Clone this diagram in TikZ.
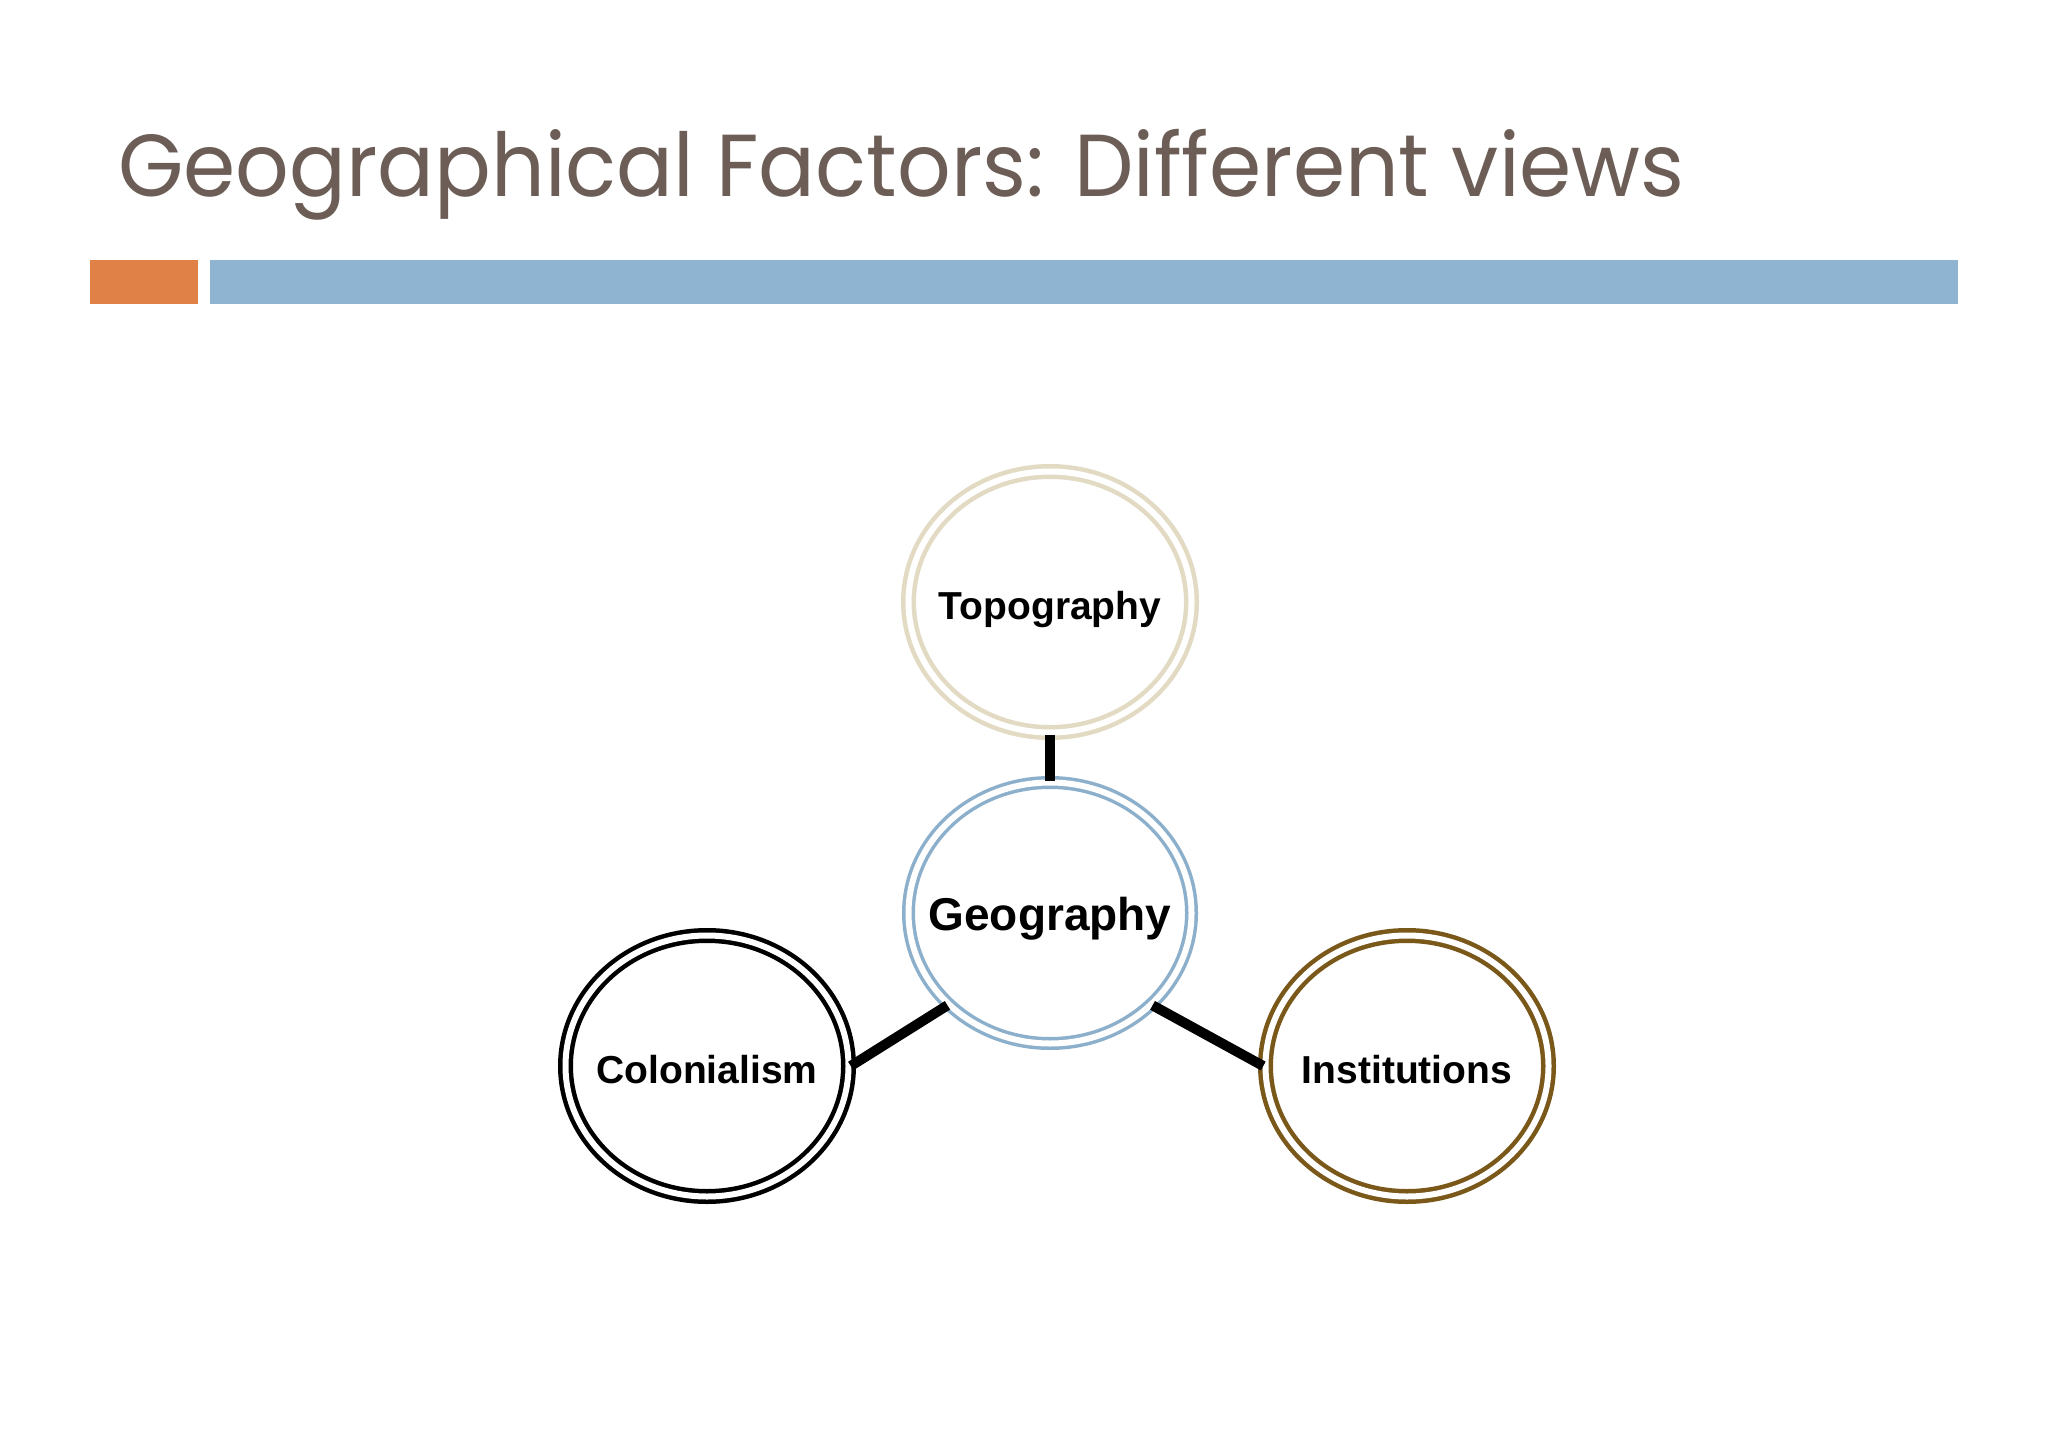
\documentclass[tikz,border=0pt]{standalone}
\usepackage{fontspec}
\setmainfont{Liberation Sans}
\newfontfamily\titlefont{Poppins}
\usetikzlibrary{shapes.geometric}
\definecolor{titlegrey}{RGB}{108,94,86}
\definecolor{barorange}{RGB}{224,130,72}
\definecolor{barblue}{RGB}{142,180,209}
\definecolor{topocol}{RGB}{226,218,194}
\definecolor{geocol}{RGB}{140,176,204}
\definecolor{instcol}{RGB}{122,88,26}
\newcommand{\zw}[1]{\makebox[0pt]{#1}}
\begin{document}
\begin{tikzpicture}[x=1pt,y=-1pt,
  ring/.style={ellipse, draw=#1, line width=4.5pt, double=white, double distance=6pt,
    minimum width=283pt, minimum height=261pt, inner sep=0pt, text height=34pt, text depth=0pt,
    font=\fontsize{39}{44}\selectfont\bfseries},
  conn/.style={line width=10pt, black}]
\useasboundingbox (0,0) rectangle (2048,1447);
\fill[white] (0,0) rectangle (2048,1447);
% title
\node[anchor=base west, inner sep=0pt, text=titlegrey, xscale=0.955, font=\titlefont\fontsize{88}{100}\selectfont] (title) at (118,197) {Geographical Factors: Different views};
% bars
\fill[barorange] (90,260) rectangle (198,304);
\fill[barblue] (210,260) rectangle (1958,304);
% circles
\node[ring=topocol] (topo) at (1050,602) {\zw{Topography}};
\node[ring=geocol, line width=3.5pt, font=\fontsize{46}{52}\selectfont\bfseries] (geo) at (1050,913) {\zw{Geography}};
\node[ring=black] (col) at (707,1066) {\zw{Colonialism}};
\node[ring=instcol] (inst) at (1407,1066) {\zw{Institutions}};
% connectors
\draw[conn] (topo.south) -- (geo.north);
\draw[conn] (col.east) -- (geo.222);
\draw[conn] (geo.318) -- (inst.west);
\end{tikzpicture}
\end{document}
